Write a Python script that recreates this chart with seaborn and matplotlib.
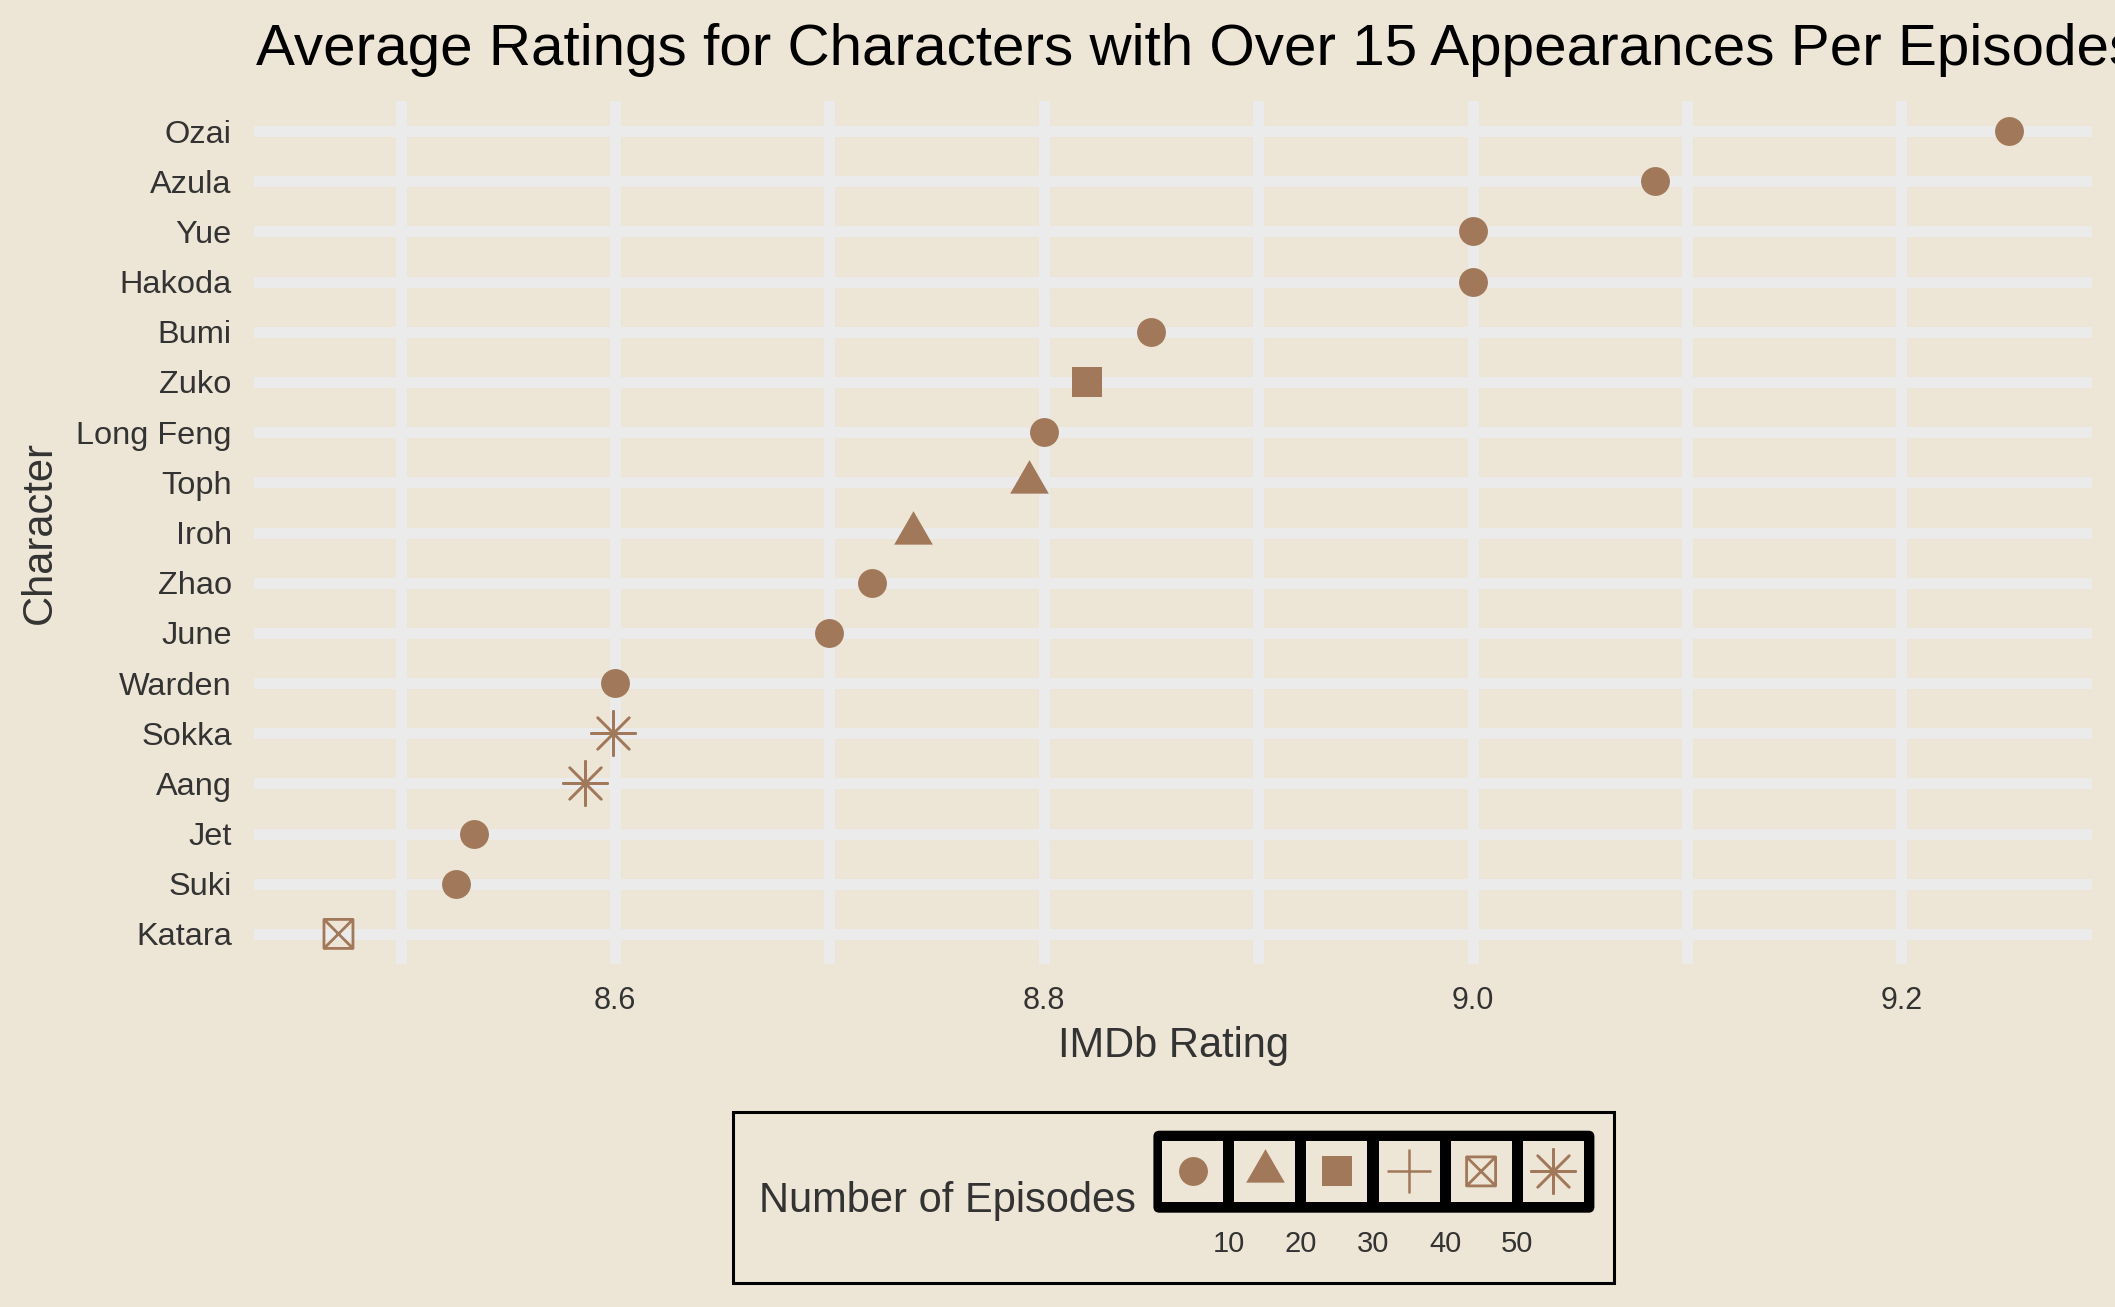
import matplotlib
matplotlib.use("Agg")
import matplotlib.pyplot as plt
from matplotlib.path import Path
from matplotlib.patches import Rectangle, FancyBboxPatch
from matplotlib.ticker import MultipleLocator, FormatStrFormatter
import numpy as np
import pandas as pd
import seaborn as sns

# data (top to bottom)
characters = ["Ozai", "Azula", "Yue", "Hakoda", "Bumi", "Zuko", "Long Feng", "Toph",
              "Iroh", "Zhao", "June", "Warden", "Sokka", "Aang", "Jet", "Suki", "Katara"]
ratings = [9.25, 9.085, 9.00, 9.00, 8.85, 8.82, 8.80, 8.793,
           8.739, 8.72, 8.70, 8.60, 8.599, 8.586, 8.534, 8.526, 8.471]
episodes = [5, 8, 3, 4, 3, 26, 6, 17,
            16, 6, 3, 2, 58, 59, 4, 7, 46]
episode_breaks = [10, 20, 30, 40, 50]

BG = "#EDE5D5"
GRID = "#EBEBEB"
BROWN = "#A1785A"
TXT = "#333333"

df = pd.DataFrame({"character": characters, "rating": ratings, "episodes": episodes})
df["bin"] = pd.cut(df["episodes"], [-np.inf] + episode_breaks + [np.inf], labels=False)

# ggplot-like shapes: circle, triangle, square, plus, boxed x, asterisk
tri = Path([(-1, -0.577), (1, -0.577), (0, 1.155), (-1, -0.577)],
           [Path.MOVETO, Path.LINETO, Path.LINETO, Path.CLOSEPOLY])
boxx = Path([(-1, -1), (1, -1), (1, 1), (-1, 1), (-1, -1), (-1, -1), (1, 1), (-1, 1), (1, -1)],
            [Path.MOVETO, Path.LINETO, Path.LINETO, Path.LINETO, Path.CLOSEPOLY,
             Path.MOVETO, Path.LINETO, Path.MOVETO, Path.LINETO])
shapes = [
    dict(marker="o", s=108, color=BROWN, linewidth=0),
    dict(marker=tri, s=258, color=BROWN, linewidth=0),
    dict(marker="s", s=111, color=BROWN, linewidth=0),
    dict(marker="+", s=256, color=BROWN, linewidth=0.9),
    dict(marker=boxx, s=109, color=BROWN, facecolor="none", edgecolor=BROWN, linewidth=1.0),
    dict(marker=(8, 2, 0), s=256, color=BROWN, linewidth=0.9),
]

sns.set_style("white", {"axes.facecolor": BG, "figure.facecolor": BG})
plt.rcParams["font.family"] = ["Liberation Sans", "DejaVu Sans"]

fig = plt.figure(figsize=(10.575, 6.535), dpi=200)
ax = fig.add_axes([254 / 2115, 1 - 964 / 1307, (2092 - 254) / 2115, (964 - 101) / 1307])

# bottom-to-top category order (Katara at the bottom)
ax.yaxis.update_units(characters[::-1])
for b, sub in df.groupby("bin"):
    sns.scatterplot(data=sub, x="rating", y="character", ax=ax, legend=False,
                    zorder=3, **shapes[int(b)])

ax.set_xlim(8.4316, 9.2889)
ax.set_ylim(-0.6, len(characters) - 0.4)
ax.xaxis.set_major_locator(MultipleLocator(0.2))
ax.xaxis.set_minor_locator(MultipleLocator(0.1))
ax.xaxis.set_major_formatter(FormatStrFormatter("%.1f"))
ax.set_axisbelow(True)
ax.xaxis.grid(True, which="both", color=GRID, linewidth=4)
ax.yaxis.grid(True, which="major", color=GRID, linewidth=4)
ax.tick_params(axis="both", which="both", length=0)
ax.tick_params(axis="x", labelsize=11, labelcolor=TXT, pad=8)
ax.tick_params(axis="y", labelsize=11.7, labelcolor=TXT, pad=8)
for sp in ax.spines.values():
    sp.set_visible(False)
ax.set_xlabel("IMDb Rating", fontsize=15, color=TXT, labelpad=3.5)
ax.set_ylabel("Character", fontsize=15, color=TXT, labelpad=6)

fig.text(256 / 2115, 1 - 65 / 1307,
         "Average Ratings for Characters with Over 15 Appearances Per Episodes",
         fontsize=21, color="black", ha="left", va="baseline")

# legend (bottom, boxed)
lax = fig.add_axes([0, 0, 1, 1], facecolor="none")
lax.set_xlim(0, 2115)
lax.set_ylim(1307, 0)
lax.axis("off")
lax.add_patch(Rectangle((732.6, 1111.7), 881, 171.3, fill=False, edgecolor="black", linewidth=1.1))
lax.add_patch(FancyBboxPatch((1153.4, 1130.7), 441, 82, boxstyle="round,pad=0,rounding_size=6",
                             facecolor="black", edgecolor="none"))
key_x = 1192.7 + 72.1 * np.arange(len(shapes))
key_y = 1171.4
for i, kx in enumerate(key_x):
    lax.add_patch(Rectangle((kx - 30.5, key_y - 30.5), 61, 61, facecolor=BG, edgecolor="none"))
    lax.scatter([kx], [key_y], zorder=3, **shapes[i])
for i, br in enumerate(episode_breaks):
    lax.text(key_x[i] + 36, 1244, str(br), ha="center", va="center", fontsize=10.5, color=TXT)
lax.text(759, 1211.7, "Number of Episodes", ha="left", va="baseline", fontsize=15, color=TXT)

fig.savefig("out.png", dpi=200, facecolor=BG)
